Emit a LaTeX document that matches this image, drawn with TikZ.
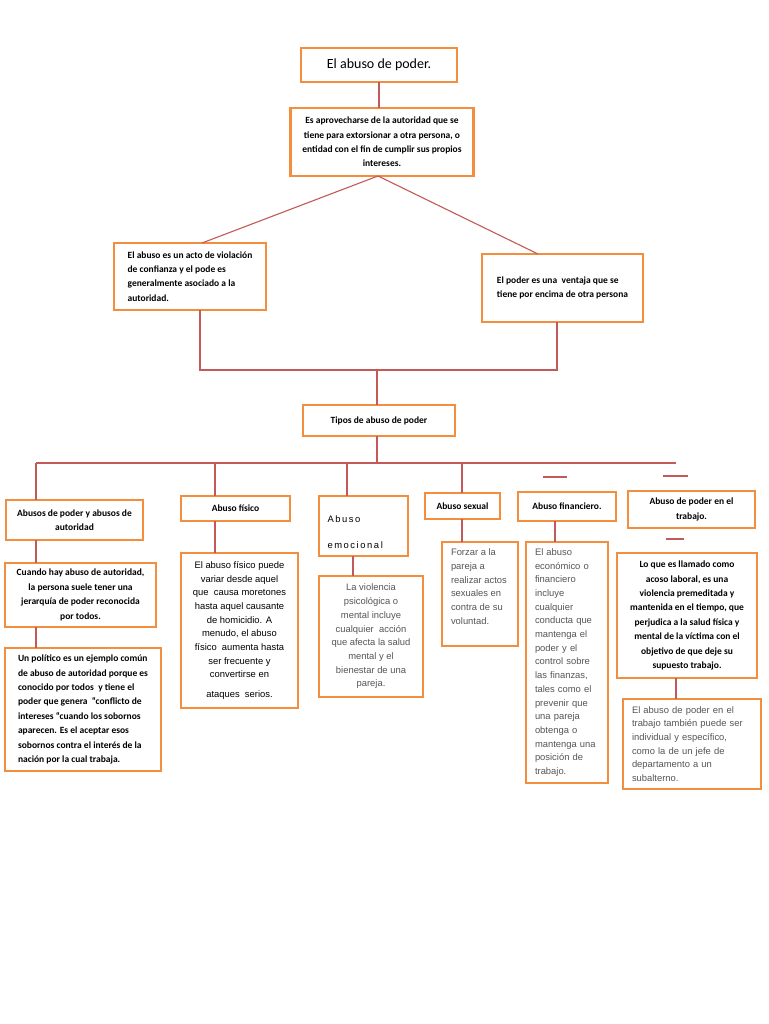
\documentclass[tikz,border=0pt]{standalone}
\usepackage{fontspec}
\setmainfont{Carlito}
\newfontfamily\arialf{Liberation Sans}
\definecolor{boxorange}{RGB}{242,142,62}
\definecolor{linkred}{RGB}{196,90,88}
\definecolor{graytext}{RGB}{85,85,85}
\begin{document}
\begin{tikzpicture}[x=1pt,y=-1pt,
  box/.style={draw=boxorange,line width=2.6pt,fill=white,inner sep=0pt,outer sep=0pt},
  cal/.style={font=\fontsize{9.5}{14.4}\selectfont\bfseries},
  ari/.style={font=\arialf\fontsize{9.4}{13.7}\selectfont},
  link/.style={draw=linkred,line width=1.1pt}]
\useasboundingbox[fill=white] (0,0) rectangle (768,1024);

% top level
\node[box,minimum width=156pt,minimum height=34pt] (title) at (379,65)
  {\fontsize{14}{16}\selectfont El abuso de poder.};
\node[box,cal,align=center,minimum width=183pt,minimum height=68pt] (def) at (382,142)
  {Es aprovecharse de la autoridad que se\\ tiene para extorsionar a otra persona, o\\ entidad con el fin de cumplir sus propios\\ intereses.};
\node[box,cal,align=left,minimum width=152pt,minimum height=67pt] (left1) at (190,276.5)
  {El abuso es un acto de violación\\ de confianza y el pode es\\ generalmente asociado a la\\ autoridad.};
\node[box,cal,align=left,minimum width=161pt,minimum height=68pt] (right1) at (562.5,288)
  {El poder es una \ ventaja que se\\ tiene por encima de otra persona};
\node[box,cal,align=center,minimum width=152pt,minimum height=31pt] (tipos) at (379,420.5)
  {Tipos de abuso de poder};

% level 2
\node[box,cal,align=center,minimum width=137pt,minimum height=40pt] (b1) at (74.5,520)
  {Abusos de poder y abusos de\\ autoridad};
\node[box,cal,align=center,minimum width=109pt,minimum height=25pt] (b2) at (235.5,508.5)
  {Abuso físico};
\node[box,ari,align=left,minimum width=89pt,minimum height=60pt,text width=72pt] (b3) at (363.5,526)
  {\rule{0pt}{19pt}A\,b\,u\,s\,o\\[12pt] e\,m\,o\,c\,i\,o\,n\,a\,l};
\node[box,cal,align=center,minimum width=75pt,minimum height=26pt] (b4) at (462.5,506)
  {Abuso sexual};
\node[box,cal,align=center,minimum width=98pt,minimum height=29pt] (b5) at (567,506.5)
  {Abuso financiero.};
\node[box,cal,align=center,minimum width=127pt,minimum height=37pt] (b6) at (691.5,509.5)
  {Abuso de poder en el\\ trabajo.};

% level 3
\node[box,cal,align=center,minimum width=151pt,minimum height=64pt] (c1) at (80.5,595)
  {Cuando hay abuso de autoridad,\\ la persona suele tener una\\ jerarquía de poder reconocida\\ por todos.};
\node[box,cal,align=left,minimum width=156pt,minimum height=123pt] (d1) at (83,709.5)
  {Un político es un ejemplo común\\ de abuso de autoridad porque es\\ conocido por todos \ y tiene el\\ poder que genera \ “conflicto de\\ intereses “cuando los sobornos\\ aparecen. Es el aceptar esos\\ sobornos contra el interés de la\\ nación por la cual trabaja.};
\node[box,ari,align=center,minimum width=117pt,minimum height=155pt] (c2) at (239.5,630.5)
  {El abuso físico puede\\ variar desde aquel\\ que \ causa moretones\\ hasta aquel causante\\ de homicidio. A\\ menudo, el abuso\\ físico \ aumenta hasta\\ ser frecuente y\\ convertirse en\\[6pt] ataques \ serios.};
\node[box,ari,text=graytext,align=center,minimum width=104pt,minimum height=121pt] (c3) at (371,636.5)
  {La violencia\\ psicológica o\\ mental incluye\\ cualquier \ acción\\ que afecta la salud\\ mental y el\\ bienestar de una\\ pareja.};
\node[box,ari,text=graytext,minimum width=76pt,minimum height=104pt] (c4) at (480,594)
  {\parbox[c][90pt][t]{58pt}{\raggedright Forzar a la\\ pareja a\\ realizar actos\\ sexuales en\\ contra de su\\ voluntad.}};
\node[box,ari,text=graytext,align=left,minimum width=82pt,minimum height=241pt,text width=64pt] (c5) at (567,662.5)
  {El abuso\\ económico o\\ financiero\\ incluye\\ cualquier\\ conducta que\\ mantenga el\\ poder y el\\ control sobre\\ las finanzas,\\ tales como el\\ prevenir que\\ una pareja\\ obtenga o\\ mantenga una\\ posición de\\ trabajo.};
\node[box,cal,align=center,minimum width=140pt,minimum height=125pt] (c6) at (687,615.5)
  {Lo que es llamado como\\ acoso laboral, es una\\ violencia premeditada y\\ mantenida en el tiempo, que\\ perjudica a la salud física y\\ mental de la víctima con el\\ objetivo de que deje su\\ supuesto trabajo.};
\node[box,ari,text=graytext,align=left,minimum width=138pt,minimum height=90pt,text width=120pt] (c7) at (692,744)
  {El abuso de poder en el\\ trabajo también puede ser\\ individual y específico,\\ como la de un jefe de\\ departamento a un\\ subalterno.};

% connectors top
\draw[link] (title.south) -- (title.south |- def.north);
\draw[link] ([xshift=-4pt]def.south) -- ([xshift=12pt]left1.north);
\draw[link] ([xshift=-4pt]def.south) -- ([xshift=-24.5pt]right1.north);
\coordinate (k1) at (200,370);
\coordinate (k2) at (557,370);
\coordinate (k0) at (377,370);
\draw[link] (k1 |- left1.south) -- (k1) -- (k2) -- (k2 |- right1.south);
\draw[link] (k0) -- (k0 |- tipos.north);

% bus
\coordinate (j1) at (36,463);
\coordinate (j2) at (215,463);
\coordinate (j3) at (347,463);
\coordinate (j4) at (462,463);
\coordinate (jr) at (676,463);
\coordinate (j0) at (377,463);
\draw[link] (j0 |- tipos.south) -- (j0);
\draw[link] (j1) -- (jr);
\draw[link] (j1) -- (j1 |- b1.north);
\draw[link] (j2) -- (j2 |- b2.north);
\draw[link] (j3) -- (j3 |- b3.north);
\draw[link] (j4) -- (j4 |- b4.north);

% floating segments
\coordinate (f1a) at (543,477); \coordinate (f1b) at (567,477);
\coordinate (f2a) at (663,476); \coordinate (f2b) at (688,476);
\coordinate (f3a) at (666,539); \coordinate (f3b) at (684,539);
\draw[link] (f1a) -- (f1b);
\draw[link] (f2a) -- (f2b);
\draw[link] (f3a) -- (f3b);

% level 2 -> 3
\draw[link] (j1 |- b1.south) -- (j1 |- c1.north);
\draw[link] (j1 |- c1.south) -- (j1 |- d1.north);
\draw[link] (j2 |- b2.south) -- (j2 |- c2.north);
\draw[link] ([xshift=-10.5pt]b3.south) -- ([xshift=-18pt]c3.north);
\draw[link] (j4 |- b4.south) -- (j4 |- c4.north);
\draw[link] ([xshift=-12pt]b5.south) -- ([xshift=-12pt]c5.north);
\draw[link] ([xshift=-11pt]c6.south) -- ([xshift=-16pt]c7.north);
\end{tikzpicture}
\end{document}
